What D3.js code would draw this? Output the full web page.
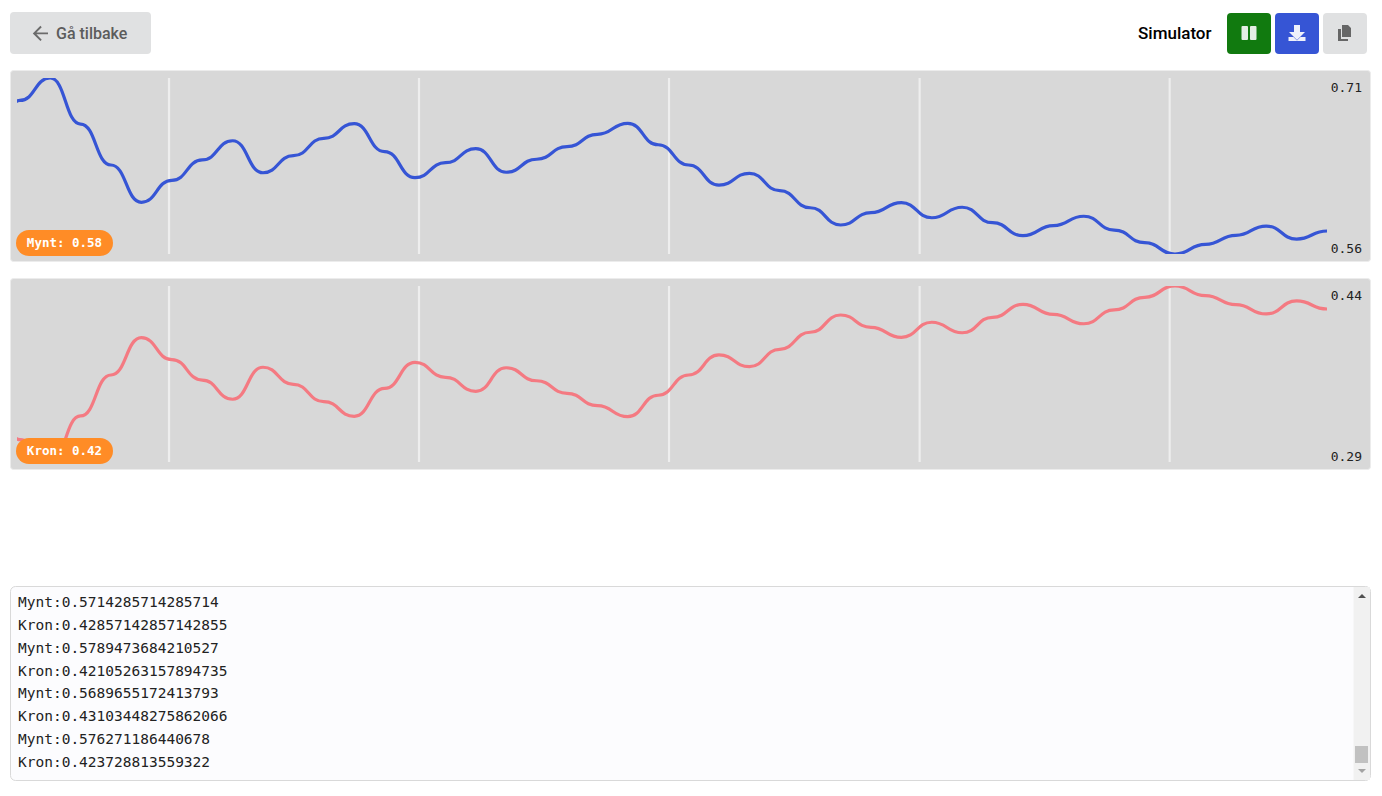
<!DOCTYPE html>
<html>
<head>
<meta charset="utf-8">
<script src="https://cdn.jsdelivr.net/npm/d3@7"></script>
<style>
html, body { margin: 0; padding: 0; background: #fff; overflow: hidden; }
svg { display: block; }
.mono { font-family: "DejaVu Sans Mono", monospace; }
.ui { font-family: Roboto, sans-serif; font-weight: 500; font-size: 16px; }
</style>
</head>
<body>
<svg id="page" width="1382" height="796"></svg>
<script>
// values, one per sample (the first one sits left of the visible area)
var myntValues = [0.6500, 0.6948, 0.7143, 0.6743, 0.6387, 0.6063, 0.6254, 0.6431, 0.6598, 0.6320, 0.6468, 0.6619, 0.6746, 0.6503, 0.6277, 0.6407, 0.6529, 0.6324, 0.6437, 0.6546, 0.6654, 0.6749, 0.6563, 0.6387, 0.6213, 0.6315, 0.6164, 0.6016, 0.5866, 0.5973, 0.6060, 0.5929, 0.6020, 0.5886, 0.5773, 0.5860, 0.5942, 0.5822, 0.5712, 0.5614, 0.5698, 0.5776, 0.5857, 0.5744, 0.5814];
var kronValues = [0.3500, 0.3052, 0.2857, 0.3257, 0.3613, 0.3937, 0.3746, 0.3569, 0.3402, 0.3680, 0.3532, 0.3381, 0.3254, 0.3497, 0.3723, 0.3593, 0.3471, 0.3676, 0.3563, 0.3454, 0.3346, 0.3251, 0.3437, 0.3613, 0.3787, 0.3685, 0.3836, 0.3984, 0.4134, 0.4027, 0.3940, 0.4071, 0.3980, 0.4114, 0.4227, 0.4140, 0.4058, 0.4178, 0.4288, 0.4386, 0.4302, 0.4224, 0.4143, 0.4256, 0.4186];
var myntDomain = [0.5614, 0.7143];
var kronDomain = [0.2857, 0.4386];
var gridSamples = [5.908, 14.132, 22.356, 30.6, 38.824]; // sample positions of the white lines
var logLines = [
	"Mynt:0.5714285714285714",
	"Kron:0.42857142857142855",
	"Mynt:0.5789473684210527",
	"Kron:0.42105263157894735",
	"Mynt:0.5689655172413793",
	"Kron:0.43103448275862066",
	"Mynt:0.576271186440678",
	"Kron:0.423728813559322"
];

const svg = d3.select("#page");

const defs = svg.append("defs");

// x is shared by both charts, sample 1 is at 19.8 and sample 44 at the right end
const x = d3.scaleLinear().domain([1, 44]).range([19.8, 1327]);

// draws one grey panel with its line, grid, range labels and badge
function drawPanel(top, name, values, domain, color) {
	const g = svg.append("g").attr("transform", `translate(0,${top})`);
	const y = d3.scaleLinear().domain(domain).range([183.5, 7.5]);
	const id = "clip-" + name;

	defs.append("clipPath").attr("id", id)
		.append("rect").attr("x", 17).attr("y", 7.5).attr("width", 1310).attr("height", 176);

	g.append("rect")
		.attr("x", 10.5).attr("y", 0)
		.attr("width", 1360).attr("height", 191)
		.attr("rx", 3)
		.attr("fill", "#d8d8d8")
		.attr("stroke", "#ececec");

	g.append("g").selectAll("line").data(gridSamples).enter()
		.append("line")
		.attr("x1", d => x(d)).attr("x2", d => x(d))
		.attr("y1", 7.5).attr("y2", 183.5)
		.attr("stroke", "#eeeeee")
		.attr("stroke-width", 2.2);

	const line = d3.line()
		.x((d, i) => x(i))
		.y(d => y(d))
		.curve(d3.curveBumpX);

	g.append("path")
		.datum(values)
		.attr("clip-path", `url(#${id})`)
		.attr("fill", "none")
		.attr("stroke", color)
		.attr("stroke-width", 3.2)
		.attr("d", line);

	g.append("text").attr("class", "mono")
		.attr("x", 1362).attr("y", 21)
		.attr("text-anchor", "end")
		.attr("font-size", 13).attr("fill", "#222")
		.text(domain[1].toFixed(2));
	g.append("text").attr("class", "mono")
		.attr("x", 1362).attr("y", 182)
		.attr("text-anchor", "end")
		.attr("font-size", 13).attr("fill", "#222")
		.text(domain[0].toFixed(2));

	g.append("rect")
		.attr("x", 16).attr("y", 159.5)
		.attr("width", 97).attr("height", 26)
		.attr("rx", 13)
		.attr("fill", "#ff8c26");
	g.append("text").attr("class", "mono")
		.attr("x", 64.5).attr("y", 176.5)
		.attr("text-anchor", "middle")
		.attr("font-size", 12.5).attr("font-weight", "bold").attr("fill", "#fff")
		.text(name + ": " + values[values.length - 1].toFixed(2));
}

function drawButton(bx, by, w, h, color) {
	svg.append("rect")
		.attr("x", bx).attr("y", by)
		.attr("width", w).attr("height", h)
		.attr("rx", 4)
		.attr("fill", color);
}

// top bar
drawButton(10, 12, 141, 42, "#e0e1e2");
svg.append("path")
	.attr("transform", "translate(29,22) scale(0.95)")
	.attr("d", "M20 11H7.83l5.59-5.59L12 4l-8 8 8 8 1.41-1.41L7.83 13H20v-2z")
	.attr("fill", "#6b6b6b");
svg.append("text").attr("class", "ui")
	.attr("x", 56).attr("y", 39)
	.attr("fill", "#5c5c5c")
	.text("Gå tilbake");
svg.append("text").attr("class", "ui")
	.attr("x", 1138).attr("y", 39)
	.attr("font-size", 17)
	.style("font-size", "17px")
	.attr("fill", "#000")
	.text("Simulator");

drawButton(1227, 13, 44, 41, "#117a0f");
svg.append("rect").attr("x", 1241.5).attr("y", 26).attr("width", 6.5).attr("height", 14).attr("rx", 1).attr("fill", "#e4efe4");
svg.append("rect").attr("x", 1250).attr("y", 26).attr("width", 6.5).attr("height", 14).attr("rx", 1).attr("fill", "#e4efe4");

drawButton(1275, 13, 44, 41, "#3655d5");
svg.append("path")
	.attr("d", "M1294 25h6v7h5l-8 8-8-8h5zM1288.5 37h5l3.5 3.5 3.5-3.5h5v4h-17z")
	.attr("fill", "#eef1fb");

drawButton(1323, 13, 44, 41, "#e0e1e2");
svg.append("path")
	.attr("d", "M1342 25h6l3 3v9h-9zM1338 29h3v10h7v2h-10z")
	.attr("fill", "#666");

drawPanel(70.5, "Mynt", myntValues, myntDomain, "#3655d5");
drawPanel(278.5, "Kron", kronValues, kronDomain, "#f47a82");

// log box
svg.append("rect")
	.attr("x", 10.5).attr("y", 586.5)
	.attr("width", 1360).attr("height", 194)
	.attr("rx", 5)
	.attr("fill", "#fcfcfe")
	.attr("stroke", "#d9d9d9");
svg.append("rect").attr("x", 1353.5).attr("y", 587).attr("width", 16.5).attr("height", 193).attr("fill", "#f1f1f1");
svg.append("rect").attr("x", 1355).attr("y", 746).attr("width", 13).attr("height", 17).attr("fill", "#c1c1c1");
svg.append("path").attr("d", "M1358 598h8l-4-4z").attr("fill", "#505050");
svg.append("path").attr("d", "M1358 769h8l-4 4z").attr("fill", "#a3a3a3");

const logY = d3.scaleLinear().domain([0, 7]).range([607, 767]);
svg.append("g").selectAll("text").data(logLines).enter()
	.append("text").attr("class", "mono")
	.attr("x", 18)
	.attr("y", (d, i) => logY(i))
	.attr("font-size", 14.5)
	.attr("fill", "#222")
	.text(d => d);
</script>
</body>
</html>
